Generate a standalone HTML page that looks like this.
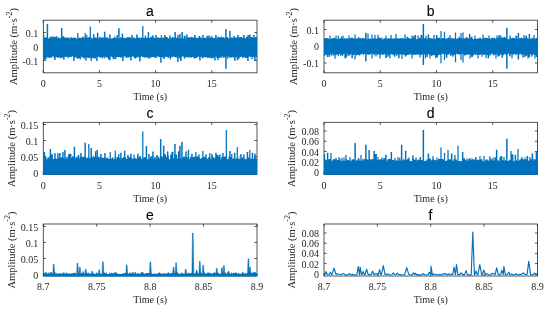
<!DOCTYPE html>
<html><head><meta charset="utf-8"><title>Figure</title>
<style>
html,body{margin:0;padding:0;background:#fff}
svg{display:block}
.tk{font-family:"Liberation Serif","Times New Roman",serif;font-size:10px;fill:#262626}
.lb{font-family:"Liberation Serif","Times New Roman",serif;font-size:10.5px;fill:#262626}
.tt{font-family:"Liberation Sans",Arial,sans-serif;font-size:14px;fill:#000;stroke:#000;stroke-width:0.1px}
</style></head><body>
<svg width="550" height="309" viewBox="0 0 550 309">
<rect width="550" height="309" fill="#fff"/>
<rect x="43.3" y="20.2" width="213.7" height="52.6" fill="none" stroke="#2b2b2b" stroke-width="0.8"/>
<path d="M43.3 72.8v-2.6M43.3 20.2v2.6M99.45 72.8v-2.6M99.45 20.2v2.6M155.6 72.8v-2.6M155.6 20.2v2.6M211.75 72.8v-2.6M211.75 20.2v2.6M43.3 32.5h2.6M257.0 32.5h-2.6M43.3 46.5h2.6M257.0 46.5h-2.6M43.3 60.5h2.6M257.0 60.5h-2.6" stroke="#2b2b2b" stroke-width="0.8" fill="none"/>
<text x="43.3" y="87" class="tk" text-anchor="middle">0</text>
<text x="99.45" y="87" class="tk" text-anchor="middle">5</text>
<text x="155.6" y="87" class="tk" text-anchor="middle">10</text>
<text x="211.75" y="87" class="tk" text-anchor="middle">15</text>
 <text x="38.2" y="36.5" class="tk" text-anchor="end">0.1</text>
 <text x="38.2" y="50.5" class="tk" text-anchor="end">0</text>
 <text x="38.2" y="64.5" class="tk" text-anchor="end">-0.1</text>
<text transform="translate(150.15 99.8) scale(0.96 1)" class="lb" text-anchor="middle">Time (s)</text>
<text transform="translate(17.1 46.5) rotate(-90)" class="lb" text-anchor="middle">Amplitude (m·s<tspan dy="-5.4" font-size="8">-2</tspan><tspan dy="5.4">)</tspan></text>
 <text x="149.95" y="16" class="tt" text-anchor="middle">a</text>
<path d="M43.3 34.5L44.42 34.5L44.42 37.81L44.92 37.81L44.92 37.41L46.17 37.41L46.17 37.48L46.67 37.48L46.67 24L48.17 24L48.17 38.59L48.92 38.59L48.92 37.46L50.42 37.46L50.42 36.39L51.92 36.39L51.92 38.58L52.17 38.58L52.17 36.3L53.67 36.3L53.67 37.22L53.92 37.22L53.92 36.94L55.67 36.94L55.67 36.31L57.42 36.31L57.42 38.37L57.92 38.37L57.92 37.58L59.17 37.58L59.17 37.96L60.42 37.96L60.42 38.55L60.92 38.55L60.92 28L62.42 28L62.42 36.26L64.17 36.26L64.17 37.57L65.67 37.57L65.67 37.77L65.92 37.77L65.92 37.93L66.17 37.93L66.17 37.48L67.67 37.48L67.67 37.79L68.67 37.79L68.67 37.54L69.67 37.54L69.67 38.56L70.42 38.56L70.42 37.31L71.92 37.31L71.92 37.67L73.17 37.67L73.17 37.73L74.17 37.73L74.17 37.62L75.67 37.62L75.67 38.5L76.67 38.5L76.67 38.51L77.17 38.51L77.17 33L78.42 33L78.42 38.19L78.92 38.19L78.92 38.06L79.42 38.06L79.42 37.6L80.17 37.6L80.17 38.3L80.42 38.3L80.42 37.83L81.92 37.83L81.92 37.91L82.17 37.91L82.17 36.71L83.92 36.71L83.92 38.57L84.17 38.57L84.17 37.22L84.67 37.22L84.67 33L85.92 33L85.92 37.73L86.17 37.73L86.17 34.9L87.42 34.9L87.42 37.82L88.42 37.82L88.42 37.07L89.67 37.07L89.67 26.5L90.92 26.5L90.92 37.35L91.42 37.35L91.42 38.59L92.67 38.59L92.67 38.28L92.92 38.28L92.92 34.3L94.42 34.3L94.42 37.4L96.17 37.4L96.17 37.65L96.92 37.65L96.92 32.7L98.42 32.7L98.42 38.57L99.17 38.57L99.17 36.95L100.67 36.95L100.67 38.07L101.42 38.07L101.42 37.35L102.67 37.35L102.67 37.4L103.92 37.4L103.92 31.7L105.42 31.7L105.42 37.75L106.42 37.75L106.42 37.43L106.67 37.43L106.67 37.19L108.17 37.19L108.17 38.56L109.17 38.56L109.17 34.5L110.67 34.5L110.67 38.6L111.17 38.6L111.17 38.4L112.17 38.4L112.17 38.52L112.67 38.52L112.67 37.81L113.92 37.81L113.92 37.89L114.17 37.89L114.17 36.79L115.67 36.79L115.67 38.14L116.17 38.14L116.17 38.22L116.42 38.22L116.42 34.9L117.92 34.9L117.92 38.55L118.17 38.55L118.17 28.3L119.67 28.3L119.67 38.58L120.17 38.58L120.17 37.14L120.67 37.14L120.67 37.13L121.42 37.13L121.42 37.14L121.67 37.14L121.67 33.5L123.17 33.5L123.17 37.9L123.67 37.9L123.67 37.74L125.17 37.74L125.17 38.01L125.92 38.01L125.92 37.88L126.92 37.88L126.92 36.92L128.68 36.92L128.68 37.37L129.43 37.37L129.43 37.2L130.68 37.2L130.68 38.11L131.18 38.11L131.18 35L132.68 35L132.68 38.1L132.93 38.1L132.93 37.49L134.68 37.49L134.68 38.56L135.43 38.56L135.43 37.63L136.18 37.63L136.18 34.5L137.68 34.5L137.68 38.04L138.43 38.04L138.43 37.21L139.43 37.21L139.43 37.95L140.43 37.95L140.43 38.52L140.68 38.52L140.68 37.61L141.43 37.61L141.43 37.15L142.18 37.15L142.18 26L143.43 26L143.43 38.04L144.68 38.04L144.68 35.82L146.18 35.82L146.18 38.02L146.68 38.02L146.68 37.84L147.68 37.84L147.68 32L149.18 32L149.18 37.65L150.43 37.65L150.43 36.71L151.93 36.71L151.93 35.49L153.68 35.49L153.68 38.11L154.93 38.11L154.93 37.74L155.18 37.74L155.18 35L156.68 35L156.68 38.15L157.18 38.15L157.18 37.2L158.43 37.2L158.43 37.54L159.18 37.54L159.18 37.99L160.68 37.99L160.68 35.36L161.93 35.36L161.93 37.86L162.18 37.86L162.18 37.38L163.43 37.38L163.43 38.1L163.68 38.1L163.68 37.53L164.18 37.53L164.18 35L165.68 35L165.68 37.3L165.93 37.3L165.93 37.1L167.68 37.1L167.68 38.17L168.43 38.17L168.43 38.56L169.18 38.56L169.18 35.5L170.68 35.5L170.68 38.13L171.18 38.13L171.18 37.67L171.93 37.67L171.93 37.07L173.43 37.07L173.43 38.51L173.68 38.51L173.68 37.51L174.43 37.51L174.43 32L175.93 32L175.93 37.88L176.18 37.88L176.18 37.8L177.18 37.8L177.18 34.9L178.68 34.9L178.68 38.51L178.93 38.51L178.93 38.6L179.18 38.6L179.18 34L180.68 34L180.68 38.17L181.43 38.17L181.43 32L182.93 32L182.93 38.59L183.68 38.59L183.68 35.73L185.68 35.73L185.68 38.4L186.18 38.4L186.18 34.5L187.68 34.5L187.68 37.46L188.43 37.46L188.43 37.3L189.18 37.3L189.18 37.32L190.43 37.32L190.43 37.47L190.93 37.47L190.93 36.72L192.43 36.72L192.43 38.02L192.68 38.02L192.68 37.36L193.93 37.36L193.93 37.89L194.18 37.89L194.18 35L195.68 35L195.68 37.87L197.18 37.87L197.18 37.97L197.93 37.97L197.93 37.75L198.68 37.75L198.68 36.11L200.18 36.11L200.18 37.56L200.68 37.56L200.68 37.35L201.43 37.35L201.43 37.81L201.68 37.81L201.68 38.41L202.18 38.41L202.18 35L203.68 35L203.68 38.06L204.18 38.06L204.18 37.61L204.93 37.61L204.93 38.08L205.68 38.08L205.68 37.74L206.43 37.74L206.43 35.84L207.93 35.84L207.93 38.06L208.18 38.06L208.18 35.5L209.68 35.5L209.68 37.72L210.68 37.72L210.68 36.35L212.43 36.35L212.43 37.45L212.93 37.45L212.93 38.2L213.43 38.2L213.43 37.81L214.68 37.81L214.68 38.16L215.18 38.16L215.18 35L216.68 35L216.68 38.57L217.18 38.57L217.18 36.82L218.68 36.82L218.68 37.56L218.93 37.56L218.93 37.23L219.93 37.23L219.93 37.49L220.68 37.49L220.68 36.58L221.93 36.58L221.93 37.17L222.18 37.17L222.18 37.63L222.93 37.63L222.93 37.06L224.43 37.06L224.43 38.5L225.18 38.5L225.18 29L226.68 29L226.68 37.11L227.93 37.11L227.93 38.3L229.18 38.3L229.18 30.7L230.68 30.7L230.68 37.68L231.18 37.68L231.18 37.48L233.18 37.48L233.18 38.16L233.43 38.16L233.43 35.95L234.93 35.95L234.93 37.82L236.18 37.82L236.18 37.16L237.18 37.16L237.18 35L238.68 35L238.68 38.59L238.93 38.59L238.93 36.98L240.43 36.98L240.43 37L242.18 37L242.18 38.21L242.43 38.21L242.43 37.72L243.18 37.72L243.18 35L244.68 35L244.68 38.18L245.68 38.18L245.68 38.39L245.93 38.39L245.93 36.76L247.43 36.76L247.43 34.9L248.93 34.9L248.93 38.57L249.18 38.57L249.18 34.5L250.68 34.5L250.68 37.11L251.43 37.11L251.43 37.26L252.93 37.26L252.93 37.75L253.18 37.75L253.18 35L254.68 35L254.68 38.03L254.93 38.03L254.93 37.24L255.18 37.24L255.18 37.01L257.05 37.01L257.05 57.66L256.93 57.66L256.93 57.24L255.93 57.24L255.93 56.39L255.68 56.39L255.68 61L254.18 61L254.18 57.25L252.93 57.25L252.93 56.89L252.68 56.89L252.68 59.18L251.43 59.18L251.43 56.35L251.18 56.35L251.18 57.06L249.43 57.06L249.43 56.3L248.93 56.3L248.93 56.81L248.68 56.81L248.68 61L247.18 61L247.18 58.12L245.18 58.12L245.18 57.21L243.68 57.21L243.68 56.46L243.43 56.46L243.43 58.11L241.93 58.11L241.93 56.56L241.18 56.56L241.18 57.07L239.68 57.07L239.68 58.84L238.18 58.84L238.18 60.27L236.68 60.27L236.68 56.96L235.68 56.96L235.68 60.8L234.18 60.8L234.18 57.55L232.68 57.55L232.68 56.49L232.43 56.49L232.43 57.51L231.18 57.51L231.18 56.92L230.93 56.92L230.93 57.43L230.68 57.43L230.68 57.72L229.43 57.72L229.43 57.06L228.68 57.06L228.68 56.36L228.43 56.36L228.43 58.63L227.18 58.63L227.18 56.4L226.68 56.4L226.68 68.8L225.18 68.8L225.18 57.14L224.68 57.14L224.68 56.4L224.43 56.4L224.43 57.78L222.93 57.78L222.93 56.43L222.43 56.43L222.43 56.57L222.18 56.57L222.18 57.76L220.43 57.76L220.43 57.02L220.18 57.02L220.18 56.44L219.93 56.44L219.93 57.93L218.68 57.93L218.68 60.29L217.18 60.29L217.18 57.59L215.93 57.59L215.93 56.39L215.68 56.39L215.68 60.5L214.18 60.5L214.18 57.02L213.68 57.02L213.68 58.18L212.18 58.18L212.18 58.25L210.43 58.25L210.43 57.63L209.18 57.63L209.18 57.79L208.43 57.79L208.43 58.09L207.18 58.09L207.18 57.09L206.43 57.09L206.43 57.55L204.93 57.55L204.93 57.35L203.43 57.35L203.43 58.27L201.68 58.27L201.68 56.84L200.68 56.84L200.68 60.5L199.18 60.5L199.18 56.37L198.68 56.37L198.68 57.21L197.18 57.21L197.18 56.68L196.93 56.68L196.93 57.92L195.18 57.92L195.18 58.52L193.43 58.52L193.43 57.08L191.93 57.08L191.93 57.03L191.68 57.03L191.68 57.73L190.18 57.73L190.18 56.75L189.68 56.75L189.68 57.51L187.93 57.51L187.93 57.18L186.68 57.18L186.68 57.16L185.43 57.16L185.43 57.08L185.18 57.08L185.18 58.8L183.68 58.8L183.68 56.91L183.43 56.91L183.43 56.36L182.18 56.36L182.18 57.12L181.68 57.12L181.68 61L180.18 61L180.18 58.47L178.93 58.47L178.93 56.66L178.68 56.66L178.68 62L177.18 62L177.18 56.94L176.93 56.94L176.93 57.43L175.93 57.43L175.93 57.37L174.93 57.37L174.93 57.07L174.68 57.07L174.68 57.1L173.43 57.1L173.43 56.34L172.68 56.34L172.68 57.33L170.93 57.33L170.93 59.5L169.68 59.5L169.68 56.55L169.18 56.55L169.18 57.94L167.93 57.94L167.93 57.64L167.43 57.64L167.43 56.4L167.18 56.4L167.18 57.12L165.68 57.12L165.68 56.38L165.18 56.38L165.18 57.25L164.93 57.25L164.93 59.12L163.43 59.12L163.43 57.41L162.18 57.41L162.18 56.91L161.68 56.91L161.68 62.8L160.18 62.8L160.18 56.77L159.68 56.77L159.68 57.22L158.18 57.22L158.18 56.36L157.18 56.36L157.18 57.73L155.68 57.73L155.68 57.67L154.68 57.67L154.68 57.23L153.18 57.23L153.18 57.08L151.93 57.08L151.93 57.51L151.18 57.51L151.18 57.52L149.68 57.52L149.68 58.76L148.18 58.76L148.18 56.71L147.93 56.71L147.93 57.77L146.43 57.77L146.43 57.17L145.43 57.17L145.43 57.73L144.18 57.73L144.18 57.07L143.18 57.07L143.18 57.36L142.43 57.36L142.43 57.3L141.93 57.3L141.93 56.32L140.93 56.32L140.93 57.36L140.68 57.36L140.68 61.5L139.18 61.5L139.18 57.14L137.68 57.14L137.68 56.69L137.18 56.69L137.18 57.71L135.93 57.71L135.93 58.62L134.18 58.62L134.18 57.12L133.18 57.12L133.18 56.6L132.18 56.6L132.18 56.45L131.68 56.45L131.68 60.5L130.18 60.5L130.18 57.32L129.18 57.32L129.18 57.59L127.42 57.59L127.42 56.85L127.17 56.85L127.17 58.06L125.92 58.06L125.92 57.65L125.67 57.65L125.67 56.42L124.92 56.42L124.92 56.47L123.67 56.47L123.67 61L122.17 61L122.17 57.46L121.42 57.46L121.42 57.54L119.92 57.54L119.92 57.18L118.67 57.18L118.67 57.09L118.42 57.09L118.42 57.09L117.42 57.09L117.42 57.03L116.42 57.03L116.42 58.99L114.67 58.99L114.67 56.58L114.42 56.58L114.42 59.16L112.67 59.16L112.67 57.18L111.67 57.18L111.67 56.43L110.67 56.43L110.67 60.3L109.17 60.3L109.17 59.56L107.92 59.56L107.92 57.33L107.42 57.33L107.42 57.27L107.17 57.27L107.17 57.44L105.42 57.44L105.42 56.41L104.92 56.41L104.92 58.5L103.67 58.5L103.67 56.83L102.92 56.83L102.92 58.32L101.42 58.32L101.42 57.08L100.92 57.08L100.92 57.55L99.42 57.55L99.42 57.04L98.42 57.04L98.42 56.4L98.17 56.4L98.17 56.8L97.67 56.8L97.67 61L96.17 61L96.17 57.28L95.92 57.28L95.92 58.45L94.42 58.45L94.42 58.34L92.42 58.34L92.42 57.5L91.92 57.5L91.92 60.7L90.42 60.7L90.42 57.42L89.92 57.42L89.92 58.1L88.17 58.1L88.17 57.64L87.17 57.64L87.17 57.4L86.67 57.4L86.67 60.5L85.17 60.5L85.17 57.35L84.92 57.35L84.92 58.55L83.67 58.55L83.67 57.7L82.67 57.7L82.67 57.22L81.17 57.22L81.17 56.31L80.92 56.31L80.92 59.44L79.67 59.44L79.67 58.13L78.17 58.13L78.17 58.76L76.67 58.76L76.67 57.71L76.42 57.71L76.42 57.27L75.17 57.27L75.17 57.58L74.67 57.58L74.67 61L73.17 61L73.17 56.77L72.92 56.77L72.92 56.31L71.92 56.31L71.92 56.95L70.67 56.95L70.67 56.49L70.42 56.49L70.42 57.21L69.17 57.21L69.17 56.31L68.92 56.31L68.92 57.65L67.17 57.65L67.17 56.43L66.67 56.43L66.67 56.91L64.92 56.91L64.92 56.43L64.67 56.43L64.67 59.54L62.92 59.54L62.92 57.34L62.67 57.34L62.67 57.42L61.92 57.42L61.92 58.13L60.17 58.13L60.17 56.93L59.92 56.93L59.92 57.17L59.67 57.17L59.67 57.7L58.67 57.7L58.67 57.86L56.92 57.86L56.92 56.97L55.67 56.97L55.67 60L54.17 60L54.17 57.45L53.42 57.45L53.42 56.31L52.42 56.31L52.42 57.6L50.67 57.6L50.67 57.65L50.17 57.65L50.17 57.89L48.92 57.89L48.92 57.24L48.67 57.24L48.67 57.58L47.17 57.58L47.17 57.27L46.92 57.27L46.92 56.42L46.67 56.42L46.67 59.36L45.17 59.36L45.17 61L43.67 61L43.67 56.32L43.3 56.32Z" fill="#0072BD"/>
<rect x="324.0" y="20.2" width="213.5" height="52.6" fill="none" stroke="#2b2b2b" stroke-width="0.8"/>
<path d="M324 72.8v-2.6M324 20.2v2.6M380.25 72.8v-2.6M380.25 20.2v2.6M436.5 72.8v-2.6M436.5 20.2v2.6M492.75 72.8v-2.6M492.75 20.2v2.6M324.0 29.5h2.6M537.5 29.5h-2.6M324.0 46.25h2.6M537.5 46.25h-2.6M324.0 63h2.6M537.5 63h-2.6" stroke="#2b2b2b" stroke-width="0.8" fill="none"/>
<text x="324" y="87" class="tk" text-anchor="middle">0</text>
<text x="380.25" y="87" class="tk" text-anchor="middle">5</text>
<text x="436.5" y="87" class="tk" text-anchor="middle">10</text>
<text x="492.75" y="87" class="tk" text-anchor="middle">15</text>
 <text x="318.9" y="33.5" class="tk" text-anchor="end">0.1</text>
 <text x="318.9" y="50.25" class="tk" text-anchor="end">0</text>
 <text x="318.9" y="67" class="tk" text-anchor="end">-0.1</text>
<text transform="translate(430.75 99.8) scale(0.96 1)" class="lb" text-anchor="middle">Time (s)</text>
<text transform="translate(297.2 46.5) rotate(-90)" class="lb" text-anchor="middle">Amplitude (m·s<tspan dy="-5.4" font-size="8">-2</tspan><tspan dy="5.4">)</tspan></text>
 <text x="430.55" y="16" class="tt" text-anchor="middle">b</text>
<path d="M324 38.46L325.12 38.46L325.12 38.07L326.38 38.07L326.38 39.11L326.62 39.11L326.62 38.1L327.38 38.1L327.38 38.02L328.62 38.02L328.62 39.16L329.38 39.16L329.38 35.5L330.62 35.5L330.62 38.62L331.62 38.62L331.62 38.44L332.12 38.44L332.12 38.16L333.38 38.16L333.38 38.01L333.62 38.01L333.62 37.81L334.62 37.81L334.62 38.01L335.12 38.01L335.12 39.01L335.38 39.01L335.38 35.5L336.62 35.5L336.62 39.08L337.62 39.08L337.62 35.66L338.88 35.66L338.88 38.89L339.12 38.89L339.12 39.06L339.38 39.06L339.38 38.15L340.12 38.15L340.12 38.14L340.88 38.14L340.88 36.46L342.12 36.46L342.12 38.49L342.38 38.49L342.38 35.8L343.62 35.8L343.62 39.07L343.88 39.07L343.88 38.33L345.38 38.33L345.38 38.62L345.62 38.62L345.62 38.38L346.12 38.38L346.12 38.28L347.88 38.28L347.88 38.79L348.38 38.79L348.38 35.5L349.62 35.5L349.62 38.71L349.88 38.71L349.88 38.32L350.88 38.32L350.88 37.38L352.62 37.38L352.62 38.3L354.12 38.3L354.12 38.72L354.38 38.72L354.38 34.5L355.62 34.5L355.62 38.39L356.38 38.39L356.38 38.51L357.62 38.51L357.62 38.86L357.88 38.86L357.88 36.94L359.12 36.94L359.12 37.7L359.38 37.7L359.38 39.08L359.62 39.08L359.62 38.07L361.62 38.07L361.62 39.2L362.12 39.2L362.12 38.35L362.38 38.35L362.38 37.72L363.38 37.72L363.38 38.11L364.12 38.11L364.12 38.65L364.88 38.65L364.88 38.21L365.12 38.21L365.12 32.7L366.62 32.7L366.62 39.19L367.38 39.19L367.38 33.5L368.62 33.5L368.62 38.46L368.88 38.46L368.88 39.16L369.38 39.16L369.38 38.59L371.12 38.59L371.12 38.9L371.38 38.9L371.38 34.5L372.62 34.5L372.62 38.79L373.62 38.79L373.62 38.07L374.38 38.07L374.38 35L375.62 35L375.62 38.82L377.12 38.82L377.12 37.98L377.38 37.98L377.38 34.8L378.62 34.8L378.62 37.76L379.38 37.76L379.38 37.71L380.88 37.71L380.88 38.14L381.12 38.14L381.12 39.07L381.38 39.07L381.38 37.6L382.38 37.6L382.38 39.13L383.62 39.13L383.62 38.16L384.38 38.16L384.38 38.27L384.88 38.27L384.88 38.82L385.12 38.82L385.12 38.6L385.38 38.6L385.38 35.5L386.62 35.5L386.62 38.82L387.38 38.82L387.38 38.58L388.12 38.58L388.12 38.08L389.12 38.08L389.12 38.49L390.38 38.49L390.38 35L391.62 35L391.62 38.47L391.88 38.47L391.88 38.43L393.38 38.43L393.38 39.05L393.62 39.05L393.62 38.46L393.88 38.46L393.88 38.17L395.12 38.17L395.12 39.15L395.38 39.15L395.38 34L396.62 34L396.62 37.98L397.12 37.98L397.12 38.18L398.62 38.18L398.62 38.39L399.12 38.39L399.12 38.86L399.38 38.86L399.38 38.15L400.38 38.15L400.38 38L401.62 38L401.62 38.79L402.12 38.79L402.12 37.96L403.62 37.96L403.62 39.2L403.88 39.2L403.88 38.67L404.38 38.67L404.38 34.5L405.62 34.5L405.62 38.55L406.62 38.55L406.62 36.65L408.12 36.65L408.12 38.07L409.62 38.07L409.62 38.71L410.12 38.71L410.12 38.59L411.38 38.59L411.38 35.5L412.62 35.5L412.62 37.93L412.88 37.93L412.88 36.15L414.12 36.15L414.12 38.35L414.38 38.35L414.38 35L416.12 35L416.12 39.05L416.38 39.05L416.38 39.13L417.12 39.13L417.12 38.98L417.38 38.98L417.38 35.5L418.62 35.5L418.62 38.75L418.88 38.75L418.88 37.87L419.62 37.87L419.62 37.69L420.62 37.69L420.62 35L422.38 35L422.38 38.96L422.62 38.96L422.62 24L424.12 24L424.12 38.73L424.38 38.73L424.38 37.89L425.38 37.89L425.38 35.79L426.62 35.79L426.62 39.18L427.12 39.18L427.12 38.84L427.62 38.84L427.62 34.5L429.12 34.5L429.12 37.79L430.12 37.79L430.12 38.49L430.62 38.49L430.62 38.23L432.38 38.23L432.38 38.87L432.88 38.87L432.88 38.72L433.38 38.72L433.38 35L434.62 35L434.62 39.12L435.38 39.12L435.38 38.87L435.88 38.87L435.88 35L437.38 35L437.38 37.78L439.12 37.78L439.12 37.82L440.12 37.82L440.12 38.96L440.38 38.96L440.38 31L441.62 31L441.62 38.46L442.12 38.46L442.12 37.98L443.38 37.98L443.38 38.06L443.88 38.06L443.88 31.7L445.12 31.7L445.12 38.53L445.38 38.53L445.38 38.85L446.12 38.85L446.12 38.31L447.62 38.31L447.62 38.5L447.88 38.5L447.88 37.57L449.38 37.57L449.38 35L450.62 35L450.62 39L451.12 39L451.12 37.67L452.62 37.67L452.62 39.11L452.88 39.11L452.88 38.97L453.12 38.97L453.12 38.58L453.62 38.58L453.62 38.1L454.62 38.1L454.62 38.99L454.88 38.99L454.88 32.5L456.12 32.5L456.12 38.89L456.88 38.89L456.88 38.16L457.88 38.16L457.88 38.13L458.62 38.13L458.62 36.68L459.88 36.68L459.88 38.15L460.38 38.15L460.38 33L461.62 33L461.62 38.36L462.12 38.36L462.12 38.31L462.38 38.31L462.38 32.5L463.62 32.5L463.62 38.53L464.88 38.53L464.88 38.14L465.62 38.14L465.62 36.86L466.88 36.86L466.88 38.6L467.12 38.6L467.12 38.04L468.62 38.04L468.62 38.82L468.88 38.82L468.88 34L470.38 34L470.38 37.95L470.62 37.95L470.62 38.71L470.88 38.71L470.88 36.85L472.62 36.85L472.62 39.08L472.88 39.08L472.88 39.16L473.88 39.16L473.88 38.87L474.38 38.87L474.38 35.5L475.62 35.5L475.62 38.82L476.38 38.82L476.38 39.02L477.12 39.02L477.12 38.59L478.88 38.59L478.88 38.86L479.12 38.86L479.12 37.7L480.88 37.7L480.88 38.15L481.12 38.15L481.12 38.93L482.12 38.93L482.12 38.9L482.38 38.9L482.38 34.5L483.62 34.5L483.62 37.72L484.62 37.72L484.62 38.53L485.12 38.53L485.12 37.8L486.62 37.8L486.62 37.96L488.12 37.96L488.12 38.78L488.38 38.78L488.38 35.5L489.62 35.5L489.62 38.19L489.88 38.19L489.88 39.01L490.62 39.01L490.62 37.7L492.12 37.7L492.12 38.13L493.38 38.13L493.38 37.98L493.88 37.98L493.88 37.47L495.12 37.47L495.12 38.69L496.12 38.69L496.12 38L496.38 38L496.38 35.5L497.62 35.5L497.62 37.87L498.38 37.87L498.38 35L499.88 35L499.88 38.43L500.12 38.43L500.12 35.46L501.38 35.46L501.38 37.52L502.88 37.52L502.88 37.72L503.62 37.72L503.62 36.67L505.12 36.67L505.12 37.83L505.88 37.83L505.88 37.91L506.12 37.91L506.12 27.7L507.62 27.7L507.62 39L508.12 39L508.12 39.18L509.38 39.18L509.38 35.5L510.62 35.5L510.62 37.83L511.38 37.83L511.38 38.52L512.12 38.52L512.12 37.63L513.38 37.63L513.38 38.21L513.62 38.21L513.62 37.93L515.12 37.93L515.12 39L515.38 39L515.38 35.85L517.12 35.85L517.12 39.1L517.62 39.1L517.62 33L519.12 33L519.12 38.11L519.38 38.11L519.38 38.72L519.62 38.72L519.62 38.05L521.12 38.05L521.12 37.86L522.12 37.86L522.12 38.36L523.12 38.36L523.12 37.94L523.38 37.94L523.38 35L524.62 35L524.62 38.17L525.38 38.17L525.38 35.68L527.12 35.68L527.12 38.04L527.62 38.04L527.62 38.74L528.38 38.74L528.38 38.93L528.62 38.93L528.62 34L530.12 34L530.12 38.71L530.62 38.71L530.62 39.12L531.38 39.12L531.38 37.69L532.62 37.69L532.62 38.25L532.88 38.25L532.88 38.3L533.38 38.3L533.38 35L534.62 35L534.62 38.76L534.88 38.76L534.88 38.99L535.38 38.99L535.38 37.91L537.12 37.91L537.12 39.02L537.38 39.02L537.38 38.99L537.5 38.99L537.5 54.52L537.38 54.52L537.38 57.08L536.12 57.08L536.12 55.04L535.62 55.04L535.62 58.5L534.38 58.5L534.38 55.04L533.62 55.04L533.62 54.16L532.62 54.16L532.62 56.39L531.12 56.39L531.12 53.64L530.88 53.64L530.88 54.24L530.12 54.24L530.12 57.16L528.62 57.16L528.62 58.5L527.38 58.5L527.38 54.89L526.88 54.89L526.88 55.93L525.62 55.93L525.62 56.96L524.38 56.96L524.38 54.41L523.88 54.41L523.88 57.53L522.38 57.53L522.38 53.6L522.12 53.6L522.12 54.8L520.62 54.8L520.62 53.73L519.62 53.73L519.62 54.78L519.12 54.78L519.12 59.6L517.62 59.6L517.62 53.64L517.38 53.64L517.38 54.36L516.62 54.36L516.62 54.89L515.38 54.89L515.38 53.7L514.88 53.7L514.88 53.68L514.62 53.68L514.62 54.54L512.88 54.54L512.88 54.54L512.62 54.54L512.62 58.5L511.38 58.5L511.38 54.12L510.62 54.12L510.62 56.31L509.12 56.31L509.12 54.89L508.88 54.89L508.88 53.65L508.12 53.65L508.12 53.78L507.62 53.78L507.62 68.8L506.12 68.8L506.12 54.75L505.62 54.75L505.62 54.62L504.88 54.62L504.88 53.68L504.38 53.68L504.38 53.87L504.12 53.87L504.12 55.3L502.88 55.3L502.88 58.07L501.38 58.07L501.38 54.56L500.62 54.56L500.62 53.65L500.38 53.65L500.38 55.59L499.38 55.59L499.38 56.52L497.38 56.52L497.38 54.75L496.88 54.75L496.88 53.61L496.62 53.61L496.62 58.5L495.38 58.5L495.38 54.39L494.38 54.39L494.38 55.32L492.88 55.32L492.88 53.6L492.38 53.6L492.38 54.25L490.88 54.25L490.88 53.72L490.62 53.72L490.62 55.55L489.12 55.55L489.12 58.2L487.62 58.2L487.62 55.06L486.62 55.06L486.62 58.3L485.38 58.3L485.38 53.64L485.12 53.64L485.12 55.08L483.62 55.08L483.62 54.53L482.62 54.53L482.62 56.72L481.38 56.72L481.38 54.24L480.62 54.24L480.62 54.73L479.12 54.73L479.12 55.02L478.62 55.02L478.62 58.5L477.38 58.5L477.38 54.48L476.88 54.48L476.88 53.85L476.62 53.85L476.62 54.91L474.88 54.91L474.88 53.61L474.62 53.61L474.62 53.92L474.12 53.92L474.12 55.53L472.88 55.53L472.88 56.99L471.12 56.99L471.12 54.75L470.62 54.75L470.62 58.5L469.38 58.5L469.38 54.29L469.12 54.29L469.12 54.44L468.12 54.44L468.12 54.21L467.88 54.21L467.88 54.75L466.62 54.75L466.62 54.64L465.62 54.64L465.62 55.4L463.88 55.4L463.88 54.47L463.62 54.47L463.62 62.6L462.38 62.6L462.38 53.67L461.62 53.67L461.62 60L460.38 60L460.38 54.49L459.88 54.49L459.88 54.42L458.38 54.42L458.38 54.27L456.88 54.27L456.88 53.64L456.12 53.64L456.12 62.2L454.88 62.2L454.88 53.92L454.62 53.92L454.62 55.02L453.62 55.02L453.62 56.75L452.12 56.75L452.12 55.03L451.62 55.03L451.62 53.71L451.38 53.71L451.38 55.84L449.88 55.84L449.88 53.61L449.38 53.61L449.38 54.11L448.88 54.11L448.88 54.81L447.38 54.81L447.38 57.82L445.88 57.82L445.88 54.46L445.12 54.46L445.12 60L443.88 60L443.88 54.04L443.12 54.04L443.12 53.91L442.38 53.91L442.38 53.82L441.62 53.82L441.62 63.2L440.38 63.2L440.38 55.1L439.88 55.1L439.88 54L439.62 54L439.62 54.91L438.12 54.91L438.12 57.27L436.38 57.27L436.38 58.2L435.12 58.2L435.12 54.88L434.38 54.88L434.38 55.18L432.62 55.18L432.62 54.96L432.38 54.96L432.38 55.76L430.62 55.76L430.62 58.5L429.38 58.5L429.38 54.24L428.62 54.24L428.62 54.22L427.88 54.22L427.88 56.89L426.38 56.89L426.38 54.02L426.12 54.02L426.12 58.2L424.88 58.2L424.88 54.5L424.12 54.5L424.12 65L422.62 65L422.62 53.72L422.38 53.72L422.38 53.91L422.12 53.91L422.12 54.98L420.62 54.98L420.62 57.46L419.38 57.46L419.38 54.4L418.62 54.4L418.62 54.87L417.38 54.87L417.38 54.41L416.88 54.41L416.88 53.61L416.62 53.61L416.62 54.82L416.38 54.82L416.38 54.96L415.38 54.96L415.38 54.82L414.88 54.82L414.88 54.62L413.88 54.62L413.88 54.88L412.88 54.88L412.88 54.76L412.62 54.76L412.62 58.5L411.38 58.5L411.38 53.83L410.88 53.83L410.88 54.6L409.38 54.6L409.38 54.77L407.88 54.77L407.88 55.08L406.38 55.08L406.38 56.59L404.62 56.59L404.62 54.4L404.12 54.4L404.12 54.63L403.12 54.63L403.12 54.5L402.62 54.5L402.62 59L401.38 59L401.38 54.56L399.62 54.56L399.62 58.2L398.12 58.2L398.12 54.55L397.88 54.55L397.88 54.2L397.38 54.2L397.38 55.65L395.88 55.65L395.88 53.67L395.38 53.67L395.38 56.74L394.12 56.74L394.12 55.13L392.62 55.13L392.62 54.28L391.12 54.28L391.12 54.29L390.62 54.29L390.62 58.5L389.38 58.5L389.38 54.97L388.88 54.97L388.88 56.73L387.38 56.73L387.38 54.14L386.88 54.14L386.88 57.95L385.12 57.95L385.12 54.31L383.88 54.31L383.88 53.75L383.62 53.75L383.62 55.01L382.12 55.01L382.12 53.7L381.62 53.7L381.62 54.75L380.62 54.75L380.62 58.5L379.38 58.5L379.38 54.22L379.12 54.22L379.12 54.2L378.38 54.2L378.38 54.76L376.88 54.76L376.88 53.78L376.62 53.78L376.62 56.57L375.38 56.57L375.38 53.9L375.12 53.9L375.12 53.61L374.88 53.61L374.88 55.24L373.62 55.24L373.62 53.9L372.62 53.9L372.62 58.5L371.38 58.5L371.38 53.73L370.88 53.73L370.88 54.22L369.62 54.22L369.62 54.81L368.38 54.81L368.38 54.73L368.12 54.73L368.12 55.01L367.38 55.01L367.38 53.89L366.62 53.89L366.62 61.6L365.12 61.6L365.12 53.66L364.62 53.66L364.62 53.97L363.88 53.97L363.88 55.06L362.62 55.06L362.62 53.6L362.38 53.6L362.38 53.92L361.62 53.92L361.62 54.26L360.38 54.26L360.38 55.55L358.88 55.55L358.88 54.83L358.62 54.83L358.62 55.1L357.38 55.1L357.38 55.3L355.62 55.3L355.62 59.6L354.38 59.6L354.38 53.78L354.12 53.78L354.12 55.05L352.88 55.05L352.88 58.2L351.38 58.2L351.38 53.85L350.62 53.85L350.62 55.18L349.38 55.18L349.38 55.79L347.62 55.79L347.62 53.79L347.12 53.79L347.12 57.56L345.62 57.56L345.62 58.5L344.38 58.5L344.38 53.62L344.12 53.62L344.12 54.34L343.12 54.34L343.12 55.93L341.88 55.93L341.88 54.79L341.12 54.79L341.12 55.67L339.88 55.67L339.88 53.92L339.12 53.92L339.12 53.68L338.88 53.68L338.88 56.14L337.62 56.14L337.62 54.56L337.12 54.56L337.12 54.69L335.62 54.69L335.62 58.8L334.38 58.8L334.38 55.33L332.88 55.33L332.88 53.61L332.62 53.61L332.62 53.69L332.38 53.69L332.38 55.85L331.12 55.85L331.12 54.3L330.38 54.3L330.38 56.84L329.12 56.84L329.12 54.82L328.62 54.82L328.62 57.01L326.88 57.01L326.88 54.84L325.62 54.84L325.62 54.76L325.38 54.76L325.38 55.7L324 55.7Z" fill="#0072BD"/>
<rect x="43.3" y="122.3" width="213.7" height="52.2" fill="none" stroke="#2b2b2b" stroke-width="0.8"/>
<path d="M43.3 174.5v-2.6M43.3 122.3v2.6M99.45 174.5v-2.6M99.45 122.3v2.6M155.6 174.5v-2.6M155.6 122.3v2.6M211.75 174.5v-2.6M211.75 122.3v2.6M43.3 124.5h2.6M257.0 124.5h-2.6M43.3 140.5h2.6M257.0 140.5h-2.6M43.3 156.5h2.6M257.0 156.5h-2.6M43.3 172.5h2.6M257.0 172.5h-2.6" stroke="#2b2b2b" stroke-width="0.8" fill="none"/>
<text x="43.3" y="188.7" class="tk" text-anchor="middle">0</text>
<text x="99.45" y="188.7" class="tk" text-anchor="middle">5</text>
<text x="155.6" y="188.7" class="tk" text-anchor="middle">10</text>
<text x="211.75" y="188.7" class="tk" text-anchor="middle">15</text>
 <text x="38.2" y="128.5" class="tk" text-anchor="end">0.15</text>
 <text x="38.2" y="144.5" class="tk" text-anchor="end">0.1</text>
 <text x="38.2" y="160.5" class="tk" text-anchor="end">0.05</text>
 <text x="38.2" y="176.5" class="tk" text-anchor="end">0</text>
<text transform="translate(150.15 201.5) scale(0.96 1)" class="lb" text-anchor="middle">Time (s)</text>
<text transform="translate(15.3 148.4) rotate(-90)" class="lb" text-anchor="middle">Amplitude (m·s<tspan dy="-5.4" font-size="8">-2</tspan><tspan dy="5.4">)</tspan></text>
 <text x="149.95" y="118.1" class="tt" text-anchor="middle">c</text>
<path d="M43.3 158.91L43.67 158.91L43.67 152L45.17 152L45.17 156.71L45.42 156.71L45.42 156.84L46.42 156.84L46.42 159.17L47.42 159.17L47.42 157.18L48.92 157.18L48.92 158.97L49.17 158.97L49.17 156.22L49.67 156.22L49.67 149L51.17 149L51.17 154.35L52.92 154.35L52.92 159.02L54.17 159.02L54.17 153L55.67 153L55.67 158.25L56.42 158.25L56.42 159.12L57.17 159.12L57.17 153.3L58.67 153.3L58.67 157.66L59.17 157.66L59.17 153L60.67 153L60.67 157.86L61.42 157.86L61.42 157.09L62.17 157.09L62.17 152L63.67 152L63.67 157.89L64.17 157.89L64.17 150L65.67 150L65.67 159.15L65.92 159.15L65.92 157.28L67.42 157.28L67.42 159.07L67.67 159.07L67.67 156.33L68.17 156.33L68.17 154L69.67 154L69.67 153.78L71.42 153.78L71.42 157.5L71.67 157.5L71.67 157.69L72.17 157.69L72.17 156.36L73.67 156.36L73.67 146.7L75.17 146.7L75.17 158.58L75.67 158.58L75.67 156.84L76.67 156.84L76.67 157.32L77.67 157.32L77.67 155.08L79.17 155.08L79.17 158.79L79.67 158.79L79.67 156.35L80.17 156.35L80.17 153L81.67 153L81.67 157.1L82.92 157.1L82.92 156.72L84.42 156.72L84.42 142.7L85.92 142.7L85.92 158L86.92 158L86.92 157.48L88.17 157.48L88.17 144L89.42 144L89.42 158.01L90.42 158.01L90.42 148L91.92 148L91.92 156.32L92.17 156.32L92.17 157.21L93.17 157.21L93.17 155.85L94.17 155.85L94.17 157.04L94.92 157.04L94.92 151.14L96.17 151.14L96.17 157.47L96.42 157.47L96.42 150L97.92 150L97.92 156.24L98.67 156.24L98.67 157.58L99.67 157.58L99.67 156.88L100.17 156.88L100.17 154L101.67 154L101.67 158.42L101.92 158.42L101.92 157.5L103.17 157.5L103.17 157.98L104.17 157.98L104.17 153L105.67 153L105.67 158.28L105.92 158.28L105.92 158.22L106.67 158.22L106.67 157.5L108.17 157.5L108.17 158.86L109.67 158.86L109.67 152L110.92 152L110.92 158.56L111.17 158.56L111.17 158.46L111.92 158.46L111.92 157.44L113.42 157.44L113.42 159.14L114.42 159.14L114.42 156.54L114.67 156.54L114.67 150.7L115.92 150.7L115.92 158.8L116.67 158.8L116.67 156.82L118.17 156.82L118.17 153.91L119.42 153.91L119.42 157.91L120.17 157.91L120.17 152.7L121.67 152.7L121.67 159.15L121.92 159.15L121.92 158.06L123.17 158.06L123.17 157L123.92 157L123.92 150.7L125.42 150.7L125.42 156.96L126.17 156.96L126.17 158.98L127.17 158.98L127.17 155L128.68 155L128.68 156.92L129.68 156.92L129.68 157.63L130.18 157.63L130.18 153.7L131.68 153.7L131.68 157.43L132.18 157.43L132.18 159.1L133.43 159.1L133.43 154.47L134.68 154.47L134.68 157.58L134.93 157.58L134.93 158.29L136.18 158.29L136.18 158.77L136.93 158.77L136.93 156.21L137.18 156.21L137.18 153.7L138.68 153.7L138.68 158.3L138.93 158.3L138.93 157.33L139.43 157.33L139.43 156.06L140.93 156.06L140.93 157.22L141.43 157.22L141.43 159.2L142.18 159.2L142.18 131.5L143.43 131.5L143.43 157.73L143.68 157.73L143.68 157.59L144.43 157.59L144.43 157.05L145.68 157.05L145.68 146L147.18 146L147.18 159.2L147.93 159.2L147.93 159.16L148.18 159.16L148.18 154L149.68 154L149.68 158.69L150.18 158.69L150.18 156.57L150.93 156.57L150.93 156.19L152.18 156.19L152.18 151.5L153.68 151.5L153.68 159.12L154.18 159.12L154.18 156.81L155.68 156.81L155.68 159.06L156.18 159.06L156.18 155L157.68 155L157.68 157.74L157.93 157.74L157.93 156.55L159.18 156.55L159.18 158.51L159.93 158.51L159.93 139L161.43 139L161.43 156.33L162.68 156.33L162.68 157.63L162.93 157.63L162.93 145.7L164.43 145.7L164.43 154.34L165.93 154.34L165.93 156.85L166.93 156.85L166.93 151.5L168.43 151.5L168.43 156.3L168.93 156.3L168.93 159.15L170.18 159.15L170.18 154.5L171.43 154.5L171.43 151.74L173.43 151.74L173.43 158.15L174.18 158.15L174.18 144L175.68 144L175.68 154.43L177.18 154.43L177.18 158.4L177.93 158.4L177.93 151.19L179.18 151.19L179.18 145.7L180.68 145.7L180.68 158.32L180.93 158.32L180.93 159.05L181.18 159.05L181.18 142L182.68 142L182.68 157.55L183.18 157.55L183.18 156.48L184.68 156.48L184.68 156.53L184.93 156.53L184.93 157.96L185.18 157.96L185.18 151.5L186.68 151.5L186.68 157.17L187.68 157.17L187.68 149.7L189.18 149.7L189.18 159.1L189.93 159.1L189.93 156.86L190.68 156.86L190.68 157.35L191.18 157.35L191.18 153.7L192.68 153.7L192.68 157.4L192.93 157.4L192.93 156.8L193.43 156.8L193.43 156.79L194.93 156.79L194.93 156.88L195.18 156.88L195.18 152L196.43 152L196.43 156.21L197.43 156.21L197.43 156.76L198.18 156.76L198.18 154.5L199.68 154.5L199.68 158.08L200.18 158.08L200.18 158.96L200.93 158.96L200.93 158.08L202.18 158.08L202.18 151L203.43 151L203.43 156.75L204.93 156.75L204.93 157.96L205.18 157.96L205.18 154.5L206.68 154.5L206.68 157.51L206.93 157.51L206.93 158.7L208.18 158.7L208.18 157.05L209.18 157.05L209.18 153L210.43 153L210.43 158.69L210.93 158.69L210.93 159.16L211.18 159.16L211.18 154L212.68 154L212.68 156.5L213.18 156.5L213.18 157.41L214.68 157.41L214.68 158.54L215.18 158.54L215.18 152.7L216.68 152.7L216.68 154.77L218.43 154.77L218.43 156.42L219.18 156.42L219.18 154.5L220.68 154.5L220.68 159.18L221.18 159.18L221.18 157.07L222.18 157.07L222.18 153L223.68 153L223.68 157.04L224.18 157.04L224.18 156.52L225.68 156.52L225.68 130L226.93 130L226.93 158.92L227.43 158.92L227.43 159.16L228.43 159.16L228.43 156.82L229.18 156.82L229.18 151L230.68 151L230.68 157L231.18 157L231.18 154.06L232.43 154.06L232.43 158.97L232.93 158.97L232.93 158.15L233.93 158.15L233.93 152.7L235.43 152.7L235.43 159.03L236.18 159.03L236.18 158.09L236.68 158.09L236.68 147L237.93 147L237.93 159.11L238.68 159.11L238.68 156.42L239.43 156.42L239.43 158.88L240.18 158.88L240.18 154L241.68 154L241.68 157.42L242.18 157.42L242.18 157.5L243.18 157.5L243.18 154.5L244.68 154.5L244.68 159.17L245.68 159.17L245.68 158.72L246.68 158.72L246.68 152L248.18 152L248.18 157.42L249.18 157.42L249.18 150L250.43 150L250.43 158.65L251.68 158.65L251.68 152.7L253.18 152.7L253.18 158.47L253.68 158.47L253.68 158.64L254.18 158.64L254.18 153.5L255.68 153.5L255.68 157.61L256.43 157.61L256.43 158.94L257.05 158.94L257 174.8L43.3 174.8Z" fill="#0072BD"/>
<rect x="324.0" y="122.3" width="213.5" height="52.2" fill="none" stroke="#2b2b2b" stroke-width="0.8"/>
<path d="M324 174.5v-2.6M324 122.3v2.6M380.25 174.5v-2.6M380.25 122.3v2.6M436.5 174.5v-2.6M436.5 122.3v2.6M492.75 174.5v-2.6M492.75 122.3v2.6M324.0 131h2.6M537.5 131h-2.6M324.0 141.3h2.6M537.5 141.3h-2.6M324.0 151.5h2.6M537.5 151.5h-2.6M324.0 161.8h2.6M537.5 161.8h-2.6M324.0 172h2.6M537.5 172h-2.6" stroke="#2b2b2b" stroke-width="0.8" fill="none"/>
<text x="324" y="188.7" class="tk" text-anchor="middle">0</text>
<text x="380.25" y="188.7" class="tk" text-anchor="middle">5</text>
<text x="436.5" y="188.7" class="tk" text-anchor="middle">10</text>
<text x="492.75" y="188.7" class="tk" text-anchor="middle">15</text>
 <text x="318.9" y="135" class="tk" text-anchor="end">0.08</text>
 <text x="318.9" y="145.3" class="tk" text-anchor="end">0.06</text>
 <text x="318.9" y="155.5" class="tk" text-anchor="end">0.04</text>
 <text x="318.9" y="165.8" class="tk" text-anchor="end">0.02</text>
 <text x="318.9" y="176" class="tk" text-anchor="end">0</text>
<text transform="translate(430.75 201.5) scale(0.96 1)" class="lb" text-anchor="middle">Time (s)</text>
<text transform="translate(295.3 148.4) rotate(-90)" class="lb" text-anchor="middle">Amplitude (m·s<tspan dy="-5.4" font-size="8">-2</tspan><tspan dy="5.4">)</tspan></text>
 <text x="430.55" y="118.1" class="tt" text-anchor="middle">d</text>
<path d="M324 154L325.12 154L325.12 158.84L325.38 158.84L325.38 159.76L326.62 159.76L326.62 160.74L326.88 160.74L326.88 152.7L328.38 152.7L328.38 159.32L329.38 159.32L329.38 159.09L330.38 159.09L330.38 153L331.62 153L331.62 161.04L332.38 161.04L332.38 159.79L333.38 159.79L333.38 159.06L334.88 159.06L334.88 159.49L335.38 159.49L335.38 157.7L336.62 157.7L336.62 158.84L336.88 158.84L336.88 159.91L338.38 159.91L338.38 157L339.62 157L339.62 158.96L340.62 158.96L340.62 161.11L341.38 161.11L341.38 157.7L342.62 157.7L342.62 160.66L343.38 160.66L343.38 157.5L344.62 157.5L344.62 160.86L345.38 160.86L345.38 155L346.62 155L346.62 158.97L347.12 158.97L347.12 160.31L348.62 160.31L348.62 159.93L349.38 159.93L349.38 157L350.62 157L350.62 161.18L351.38 161.18L351.38 159.55L352.38 159.55L352.38 159.16L353.88 159.16L353.88 159.86L354.12 159.86L354.12 159.57L354.38 159.57L354.38 143L355.88 143L355.88 160.59L356.88 160.59L356.88 160.24L357.62 160.24L357.62 158.36L359.38 158.36L359.38 159.24L359.62 159.24L359.62 160.87L360.38 160.87L360.38 155L361.62 155L361.62 160.67L362.12 160.67L362.12 159.16L363.38 159.16L363.38 160.86L363.62 160.86L363.62 159.12L364.62 159.12L364.62 159.56L365.12 159.56L365.12 144.7L366.62 144.7L366.62 159.29L366.88 159.29L366.88 158.96L367.62 158.96L367.62 159.91L368.38 159.91L368.38 150L369.88 150L369.88 159.27L370.88 159.27L370.88 160.57L371.38 160.57L371.38 158.98L373.12 158.98L373.12 159.39L373.38 159.39L373.38 151L374.88 151L374.88 154L376.88 154L376.88 159.83L377.38 159.83L377.38 157L378.62 157L378.62 159.79L379.62 159.79L379.62 159.17L381.38 159.17L381.38 157.5L382.62 157.5L382.62 160.1L383.12 160.1L383.12 158.33L385.12 158.33L385.12 154.7L386.62 154.7L386.62 161.05L386.88 161.05L386.88 160.31L387.62 160.31L387.62 159.36L387.88 159.36L387.88 159.07L388.88 159.07L388.88 158.88L390.62 158.88L390.62 152L392.12 152L392.12 160L393.12 160L393.12 159.7L394.38 159.7L394.38 158L395.62 158L395.62 160.77L396.62 160.77L396.62 159.81L397.38 159.81L397.38 157L398.62 157L398.62 161.09L399.12 161.09L399.12 157.73L400.38 157.73L400.38 160.94L400.62 160.94L400.62 159.95L400.88 159.95L400.88 144.7L402.38 144.7L402.38 160.45L403.12 160.45L403.12 158.78L403.88 158.78L403.88 159.69L404.88 159.69L404.88 150.7L406.38 150.7L406.38 159.95L407.12 159.95L407.12 158.83L408.38 158.83L408.38 157.5L409.62 157.5L409.62 160.83L410.38 160.83L410.38 160.94L411.12 160.94L411.12 161.19L412.12 161.19L412.12 155.5L413.62 155.5L413.62 158.87L414.12 158.87L414.12 159.66L415.38 159.66L415.38 157.5L416.62 157.5L416.62 160.93L416.88 160.93L416.88 159.8L417.62 159.8L417.62 159.4L418.38 159.4L418.38 159.8L418.62 159.8L418.62 159.87L419.62 159.87L419.62 157L421.12 157L421.12 160.11L422.38 160.11L422.38 160.44L422.62 160.44L422.62 130L424.12 130L424.12 160.99L425.38 160.99L425.38 161.11L425.88 161.11L425.88 159.54L427.38 159.54L427.38 161.15L427.62 161.15L427.62 153.5L429.12 153.5L429.12 158.39L430.88 158.39L430.88 159.5L431.12 159.5L431.12 160.15L432.12 160.15L432.12 159.58L432.38 159.58L432.38 156L433.62 156L433.62 158.99L434.12 158.99L434.12 161.16L434.38 161.16L434.38 159.9L435.88 159.9L435.88 160.16L436.38 160.16L436.38 157.5L437.62 157.5L437.62 160.14L438.12 160.14L438.12 158.73L439.38 158.73L439.38 158.93L440.38 158.93L440.38 147.5L441.62 147.5L441.62 159.07L443.12 159.07L443.12 159.5L443.88 159.5L443.88 153L445.12 153L445.12 161.11L445.88 161.11L445.88 160.65L446.88 160.65L446.88 160.35L447.38 160.35L447.38 150L448.62 150L448.62 159.02L449.12 159.02L449.12 159.49L450.38 159.49L450.38 159.24L450.88 159.24L450.88 153.5L452.38 153.5L452.38 160.29L452.62 160.29L452.62 160.67L453.62 160.67L453.62 158.93L454.38 158.93L454.38 155L455.62 155L455.62 159.5L456.88 159.5L456.88 161.04L457.38 161.04L457.38 145.7L458.62 145.7L458.62 161.08L459.88 161.08L459.88 161.11L460.62 161.11L460.62 161.19L461.88 161.19L461.88 152L463.38 152L463.38 158.18L465.12 158.18L465.12 159.97L465.62 159.97L465.62 160.36L466.38 160.36L466.38 158.5L467.62 158.5L467.62 161.2L468.12 161.2L468.12 159.04L469.12 159.04L469.12 159.13L469.38 159.13L469.38 158L470.62 158L470.62 160.06L471.38 160.06L471.38 158.5L472.62 158.5L472.62 159.36L473.88 159.36L473.88 159.54L475.12 159.54L475.12 157L476.62 157L476.62 160.57L477.12 160.57L477.12 159.68L478.12 159.68L478.12 159.76L479.38 159.76L479.38 156L480.62 156L480.62 159.59L481.12 159.59L481.12 159.03L481.88 159.03L481.88 159.59L482.38 159.59L482.38 161.16L483.38 161.16L483.38 156L484.62 156L484.62 161.2L485.12 161.2L485.12 159.46L486.88 159.46L486.88 160.9L487.12 160.9L487.12 159.4L488.12 159.4L488.12 160.4L488.88 160.4L488.88 160.91L489.12 160.91L489.12 156.5L490.62 156.5L490.62 159.49L491.38 159.49L491.38 158.96L492.12 158.96L492.12 160.86L492.38 160.86L492.38 157.5L493.62 157.5L493.62 160.4L494.38 160.4L494.38 157.16L495.88 157.16L495.88 149.7L497.38 149.7L497.38 161L497.62 161L497.62 159.99L498.62 159.99L498.62 161.11L499.38 161.11L499.38 157.5L500.38 157.5L500.38 155.9L502.38 155.9L502.38 160.16L502.88 160.16L502.88 160.31L503.38 160.31L503.38 157L504.62 157L504.62 160.43L505.62 160.43L505.62 160.15L506.12 160.15L506.12 138.7L507.62 138.7L507.62 160.96L508.88 160.96L508.88 159.82L509.88 159.82L509.88 160L510.38 160L510.38 151L511.62 151L511.62 154.16L513.38 154.16L513.38 161.13L514.12 161.13L514.12 160.78L514.62 160.78L514.62 154.7L516.12 154.7L516.12 161.06L516.62 161.06L516.62 159.51L517.38 159.51L517.38 149L518.62 149L518.62 161.1L519.12 161.1L519.12 159.67L520.38 159.67L520.38 158.76L521.38 158.76L521.38 157L522.62 157L522.62 159.01L522.88 159.01L522.88 159.02L523.62 159.02L523.62 159.68L524.38 159.68L524.38 157.5L525.62 157.5L525.62 159.24L526.12 159.24L526.12 159.41L526.62 159.41L526.62 156L528.12 156L528.12 161.01L528.38 161.01L528.38 160.47L529.38 160.47L529.38 157L530.62 157L530.62 159.25L531.62 159.25L531.62 153.5L533.12 153.5L533.12 161.04L533.38 161.04L533.38 158.77L534.38 158.77L534.38 159.54L535.62 159.54L535.62 152L537.12 152L537.12 161.2L537.5 161.2L537.5 174.8L324 174.8Z" fill="#0072BD"/>
<rect x="43.3" y="224.0" width="213.7" height="52" fill="none" stroke="#2b2b2b" stroke-width="0.8"/>
<path d="M43.3 276.0v-2.6M43.3 224.0v2.6M96.72 276.0v-2.6M96.72 224.0v2.6M150.15 276.0v-2.6M150.15 224.0v2.6M203.57 276.0v-2.6M203.57 224.0v2.6M257 276.0v-2.6M257 224.0v2.6M43.3 226.5h2.6M257.0 226.5h-2.6M43.3 242.5h2.6M257.0 242.5h-2.6M43.3 258.5h2.6M257.0 258.5h-2.6M43.3 274.5h2.6M257.0 274.5h-2.6" stroke="#2b2b2b" stroke-width="0.8" fill="none"/>
<text x="43.3" y="290.2" class="tk" text-anchor="middle">8.7</text>
<text x="96.72" y="290.2" class="tk" text-anchor="middle">8.75</text>
<text x="150.15" y="290.2" class="tk" text-anchor="middle">8.8</text>
<text x="203.57" y="290.2" class="tk" text-anchor="middle">8.85</text>
<text x="257" y="290.2" class="tk" text-anchor="middle">8.9</text>
 <text x="38.2" y="230.5" class="tk" text-anchor="end">0.15</text>
 <text x="38.2" y="246.5" class="tk" text-anchor="end">0.1</text>
 <text x="38.2" y="262.5" class="tk" text-anchor="end">0.05</text>
 <text x="38.2" y="278.5" class="tk" text-anchor="end">0</text>
<text transform="translate(150.15 303) scale(0.96 1)" class="lb" text-anchor="middle">Time (s)</text>
<text transform="translate(15.3 250) rotate(-90)" class="lb" text-anchor="middle">Amplitude (m·s<tspan dy="-5.4" font-size="8">-2</tspan><tspan dy="5.4">)</tspan></text>
 <text x="149.95" y="219.8" class="tt" text-anchor="middle">e</text>
<path d="M43.3 273.83L44 272.55L44.7 272.99L45.4 273.9L46.1 273.05L46.8 273.85L47.5 273.76L48.2 272.11L48.9 273.61L49.6 273.75L50.3 272.79L51 271.93L51.7 272.26L52.4 273.57L53.1 273.77L53.8 271.85L54.5 271.82L55.2 273.89L55.9 271.86L56.6 273.42L57.3 273.68L58 273.89L58.7 272.84L59.4 273.72L60.1 272.97L60.8 273.7L61.5 273.52L62.2 273.72L62.9 271.71L63.6 273.18L64.3 272.31L65 273.89L65.7 273.49L66.4 272.28L67.1 273.24L67.8 273.16L68.5 273.57L69.2 273.59L69.9 273.76L70.6 273.42L71.3 273.75L72 272.8L72.7 273.78L73.4 272.6L74.1 273.02L74.8 273.07L75.5 272.71L76.2 273.69L76.9 273.89L77.6 273.21L78.3 273.8L79 273.41L79.7 273.86L80.4 273.83L81.1 273.31L81.8 272.76L82.5 273.72L83.2 272.43L83.9 273.15L84.6 273.88L85.3 273.9L86 273.59L86.7 273.1L87.4 272.77L88.1 273.9L88.8 272.22L89.5 273.3L90.2 273.66L90.9 273.38L91.6 273.9L92.3 272.65L93 272.49L93.7 273.9L94.4 273.83L95.1 273.87L95.8 273.87L96.5 272.21L97.2 272.7L97.9 273.84L98.6 273.9L99.3 273.9L100 273.89L100.7 273.86L101.4 273.57L102.1 273.9L102.8 273.74L103.5 273.8L104.2 272.84L104.9 272.33L105.6 273.76L106.3 272.08L107 273.82L107.7 273.82L108.4 273.9L109.1 273.9L109.8 271.84L110.5 273.89L111.2 272.36L111.9 273.76L112.6 273.51L113.3 273.88L114 273.27L114.7 271.76L115.4 272.62L116.1 272.82L116.8 272.48L117.5 273.64L118.2 273.8L118.9 273.9L119.6 273.78L120.3 273.9L121 273.56L121.7 273.9L122.4 273.88L123.1 272.66L123.8 273.6L124.5 273.57L125.2 272.58L125.9 273.23L126.6 272.54L127.3 273.56L128 273.62L128.7 273.9L129.4 272.05L130.1 273.85L130.8 272.48L131.5 273.59L132.2 272.83L132.9 273.51L133.6 273.47L134.3 273.76L135 273.9L135.7 273.84L136.4 273.9L137.1 273.49L137.8 273.85L138.5 272.94L139.2 273.59L139.9 273.86L140.6 273.87L141.3 271.77L142 271.73L142.7 272.22L143.4 273.89L144.1 273.9L144.8 273.58L145.5 273.75L146.2 272.98L146.9 273.06L147.6 272.99L148.3 272.62L149 273.68L149.7 273.47L150.4 273.79L151.1 272.74L151.8 273.78L152.5 273.8L153.2 273.77L153.9 273.84L154.6 273.87L155.3 273.21L156 273.83L156.7 273.9L157.4 273.77L158.1 272.7L158.8 272.94L159.5 272.35L160.2 273.04L160.9 273.56L161.6 273.78L162.3 273.9L163 273.12L163.7 273.22L164.4 273.62L165.1 273.9L165.8 272.63L166.5 273.48L167.2 273.6L167.9 272.42L168.6 272.03L169.3 273.65L170 272.98L170.7 273.44L171.4 272.72L172.1 272.92L172.8 273.78L173.5 273.9L174.2 272.76L174.9 273.89L175.6 272.1L176.3 273.89L177 272.4L177.7 272L178.4 273.39L179.1 273.9L179.8 273.05L180.5 273.9L181.2 273.13L181.9 272.42L182.6 273.12L183.3 273.75L184 273.47L184.7 273.88L185.4 273.01L186.1 272.95L186.8 272.88L187.5 273.9L188.2 272.16L188.9 273.09L189.6 273.45L190.3 273L191 273.78L191.7 272.57L192.4 273.28L193.1 273.67L193.8 273.84L194.5 273.7L195.2 272.61L195.9 272.97L196.6 273.73L197.3 272.25L198 273.59L198.7 273.4L199.4 273.89L200.1 272L200.8 272.02L201.5 272.93L202.2 273.7L202.9 273.85L203.6 273.87L204.3 272.6L205 272.8L205.7 273.69L206.4 273.86L207.1 272.69L207.8 272.83L208.5 272.14L209.2 273.53L209.9 272.36L210.6 273.49L211.3 272.63L212 273.9L212.7 273.49L213.4 272.58L214.1 273.01L214.8 271.83L215.5 273.25L216.2 273.78L216.9 272.9L217.6 272.44L218.3 273.05L219 273.12L219.7 273.9L220.4 273.9L221.1 273.84L221.8 273.75L222.5 272.69L223.2 273.83L223.9 273.9L224.6 273.9L225.3 271.71L226 273.85L226.7 273.77L227.4 272.3L228.1 271.97L228.8 273.79L229.5 273.24L230.2 273.69L230.9 273.81L231.6 272L232.3 273.9L233 273.07L233.7 272.81L234.4 272.76L235.1 273.37L235.8 272.15L236.5 272.57L237.2 273.17L237.9 273.9L238.6 272.26L239.3 273.87L240 273.88L240.7 273.79L241.4 273.5L242.1 273.77L242.8 273.62L243.5 273.79L244.2 273.84L244.9 272.95L245.6 273.09L246.3 273.9L247 272.23L247.7 273.87L248.4 273.77L249.1 272.74L249.8 272.4L250.5 271.94L251.2 272.33L251.9 273.42L252.6 272.16L253.3 272.67L254 272.47L254.7 271.81L255.4 271.98L256.1 273.57L256.8 273.58L257 272.83L257 276.6L43.3 276.6Z" fill="#0072BD"/>
<path d="M45.1 275L45.65 272.2L46.35 272.2L47 275ZM49.5 275L50.05 272.8L50.75 272.8L51.4 275ZM52.8 275L53.35 264.2L54.05 264.2L54.7 275ZM76.6 275L77.15 263.2L77.85 263.2L78.5 275ZM78.9 275L79.45 267.2L80.15 267.2L80.8 275ZM82.3 275L82.85 271.6L83.55 271.6L84.2 275ZM84.9 275L85.45 269.2L86.15 269.2L86.8 275ZM91.3 275L91.85 271.2L92.55 271.2L93.2 275ZM98.3 275L98.85 269.8L99.55 269.8L100.2 275ZM102 275L102.55 261.8L103.25 261.8L103.9 275ZM111.4 275L111.95 273L112.65 273L113.3 275ZM125.8 275L126.35 264.8L127.05 264.8L127.7 275ZM131.9 275L132.45 272.2L133.15 272.2L133.8 275ZM134.5 275L135.05 272.2L135.75 272.2L136.4 275ZM142.5 275L143.05 273L143.75 273L144.4 275ZM149.5 275L150.05 261.8L150.75 261.8L151.4 275ZM172.6 275L173.15 267.2L173.85 267.2L174.5 275ZM175.2 275L175.75 262.8L176.45 262.8L177.1 275ZM184.8 275L185.35 269.2L186.05 269.2L186.7 275ZM191.9 275L192.45 233L193.15 233L193.8 275ZM195.7 275L196.25 270.2L196.95 270.2L197.6 275ZM198.9 275L199.45 261.2L200.15 261.2L200.8 275ZM202.3 275L202.85 265.2L203.55 265.2L204.2 275ZM215.8 275L216.35 268.2L217.05 268.2L217.7 275ZM221 275L221.55 267.8L222.25 267.8L222.9 275ZM223 275L223.55 265.6L224.25 265.6L224.9 275ZM227.8 275L228.35 271.2L229.05 271.2L229.7 275ZM241.9 275L242.45 272.2L243.15 272.2L243.8 275ZM247.5 275L248.05 258.8L248.75 258.8L249.4 275ZM249.1 275L249.65 267.2L250.35 267.2L251 275ZM253.5 275L254.05 272.5L254.75 272.5L255.4 275Z" fill="#0072BD" stroke="#0072BD" stroke-width="0.5" stroke-linejoin="round"/>
<rect x="324.0" y="224.0" width="213.5" height="52" fill="none" stroke="#2b2b2b" stroke-width="0.8"/>
<path d="M324 276.0v-2.6M324 224.0v2.6M377.38 276.0v-2.6M377.38 224.0v2.6M430.75 276.0v-2.6M430.75 224.0v2.6M484.12 276.0v-2.6M484.12 224.0v2.6M537.5 276.0v-2.6M537.5 224.0v2.6M324.0 233h2.6M537.5 233h-2.6M324.0 243.2h2.6M537.5 243.2h-2.6M324.0 253.4h2.6M537.5 253.4h-2.6M324.0 263.6h2.6M537.5 263.6h-2.6M324.0 273.8h2.6M537.5 273.8h-2.6" stroke="#2b2b2b" stroke-width="0.8" fill="none"/>
<text x="324" y="290.2" class="tk" text-anchor="middle">8.7</text>
<text x="377.38" y="290.2" class="tk" text-anchor="middle">8.75</text>
<text x="430.75" y="290.2" class="tk" text-anchor="middle">8.8</text>
<text x="484.12" y="290.2" class="tk" text-anchor="middle">8.85</text>
<text x="537.5" y="290.2" class="tk" text-anchor="middle">8.9</text>
 <text x="318.9" y="237" class="tk" text-anchor="end">0.08</text>
 <text x="318.9" y="247.2" class="tk" text-anchor="end">0.06</text>
 <text x="318.9" y="257.4" class="tk" text-anchor="end">0.04</text>
 <text x="318.9" y="267.6" class="tk" text-anchor="end">0.02</text>
 <text x="318.9" y="277.8" class="tk" text-anchor="end">0</text>
<text transform="translate(430.75 303) scale(0.96 1)" class="lb" text-anchor="middle">Time (s)</text>
<text transform="translate(295.3 250) rotate(-90)" class="lb" text-anchor="middle">Amplitude (m·s<tspan dy="-5.4" font-size="8">-2</tspan><tspan dy="5.4">)</tspan></text>
 <text x="430.55" y="219.8" class="tt" text-anchor="middle">f</text>
<path d="M324 274.9L324.7 274.48L326 271.6L327.3 274.54L329.1 274.72L330.4 272.2L331.7 274.87L331.9 274.84L334 268.2L336.1 274.46L337.7 273.66L339.2 274.29L340.7 274.72L342.2 273.76L343.7 273.58L345.2 275L346.7 275.1L348.2 274.2L349.7 273.64L351.2 275.05L352.7 274.37L354.2 275.08L355.7 275.08L356.9 274.45L358.2 266.6L359.5 274.89L359.55 274.71L360.2 267.2L361.5 274.59L361.9 274.65L363.2 271.6L364.5 274.87L365 274.47L366.6 269.2L368.2 274.58L369.8 274.5L371.1 274.74L372.6 271.2L374.1 274.66L375.7 273.58L377.2 273.71L378.4 274.71L379.6 269.6L380.8 274.58L381.5 274.46L383.3 265.6L385.1 274.61L386.7 274.05L388.2 274.05L389.7 274.95L391.8 274.74L393.3 272.8L394.8 274.73L396 274.48L397.3 273.2L398.6 274.53L400.2 274.58L401.7 275.01L403.2 274.95L404.6 274.72L406.7 267.6L408.8 274.44L410.4 275.01L412.1 274.6L413.4 272.8L414.7 274.4L414.75 274.45L415.4 273.2L416.7 274.87L418.3 274.62L419.8 275.09L422.1 274.68L423.4 273.5L424.7 274.89L426.3 275.03L428.1 274.42L429.4 272.3L430.7 274.79L430.75 274.8L431 266.2L432.3 274.63L433.9 274.11L435.4 274.3L436.9 274.92L438.4 274.94L439.9 274.24L441.4 275.08L442.9 273.91L444.4 273.83L445.9 273.57L447.4 275L448.9 273.88L450.4 274.43L452.8 274.44L454.1 267.2L455.4 274.57L455.45 274.47L456.5 264.6L457.8 274.57L459.5 274.62L461 272.8L462.5 274.67L464.6 274.62L466.1 270.6L467.6 274.89L469.2 274.93L471.2 274.83L472.8 232L474.4 274.4L474.7 274.81L476 271L477.3 274.75L477.9 274.64L479.8 264.6L481.7 274.53L482 274.85L483.8 270.2L485.6 274.5L487.2 273.78L488.7 274.93L490.2 274.99L491.7 273.65L493.2 273.37L495.1 274.6L496.7 267.8L498.3 274.87L500.6 274.72L501.9 270.2L503.2 274.43L503.25 274.53L503.9 266.6L505.4 274.82L507.2 274.58L508.7 272.2L510.2 274.86L511.8 274.03L513.3 275.05L514.7 274.69L516 273.6L517.3 274.74L518.9 274.58L520.4 274.32L521.6 274.4L523.4 272.8L525.2 274.64L527.1 274.41L528.8 261.2L530.5 274.65L532.1 274.95L533.1 274.52L534.4 273L535.7 274.89L537.5 274.9" fill="none" stroke="#0072BD" stroke-width="1.15" stroke-linejoin="round"/>
</svg>
</body></html>
